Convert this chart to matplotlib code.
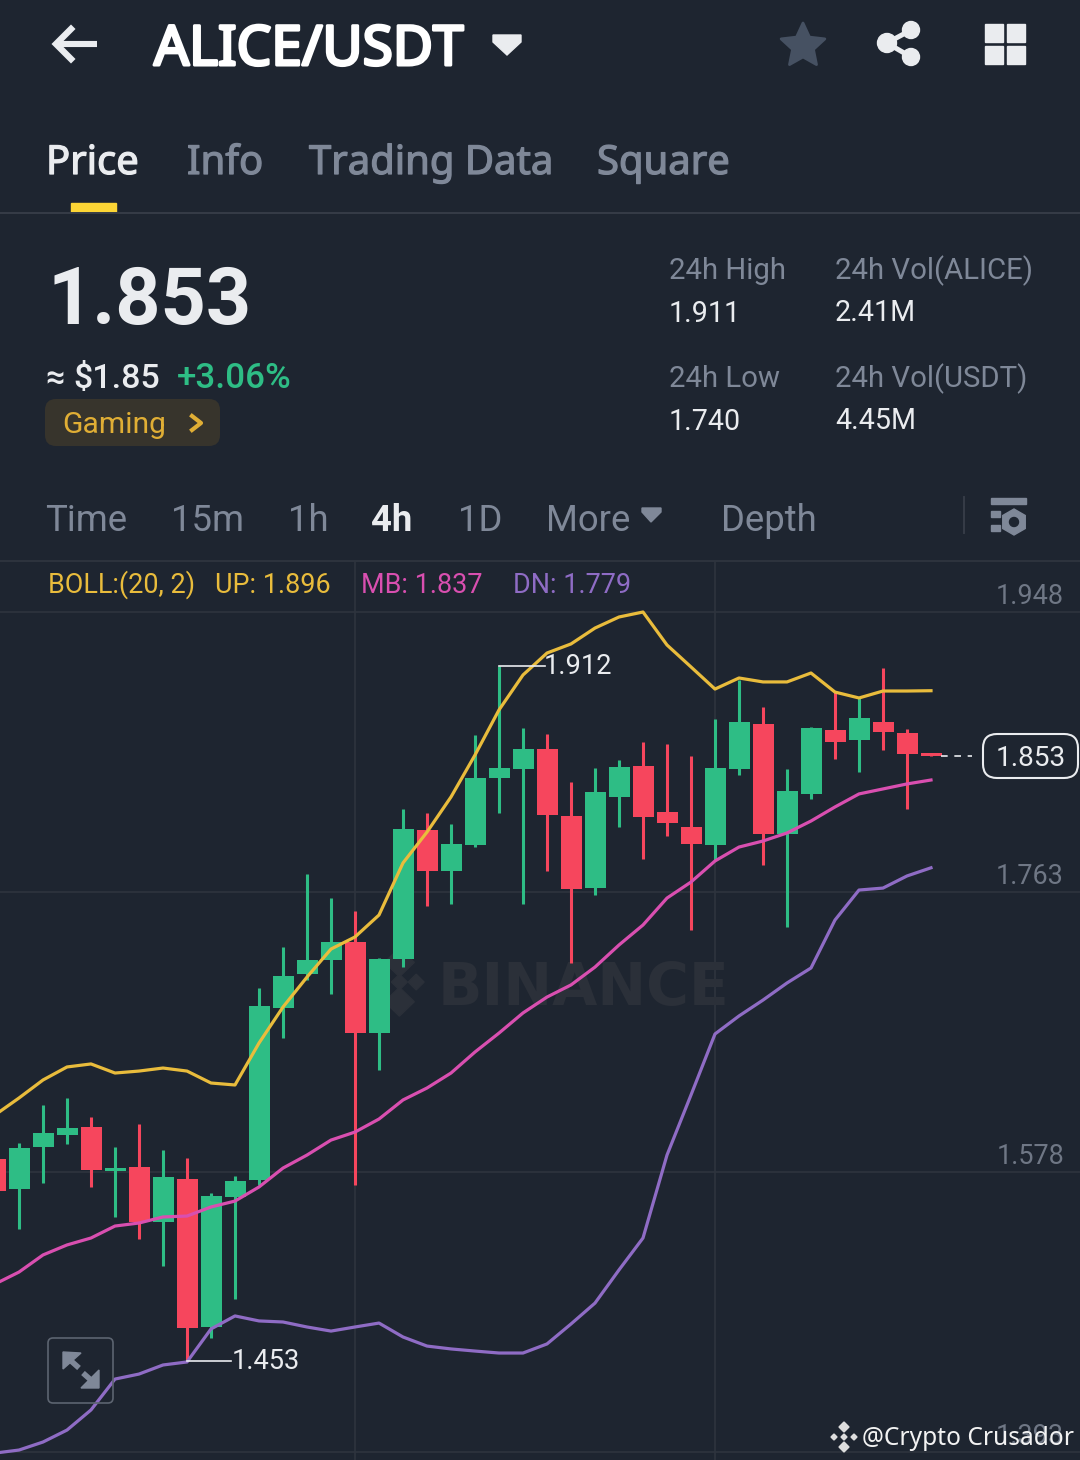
import numpy as np
import matplotlib
matplotlib.use('Agg')
import matplotlib.pyplot as plt
import matplotlib.patheffects as pe
from matplotlib.patches import Polygon, Rectangle, FancyBboxPatch, Circle

plt.rcParams['font.family'] = ['Roboto', 'DejaVu Sans']

# candles, oldest first
opens = [1.5866, 1.5668, 1.5945, 1.6025, 1.6077, 1.5787, 1.5813, 1.5450, 1.5734, 1.4756,
         1.5615, 1.5727, 1.6864, 1.7088, 1.7181, 1.7300, 1.6698, 1.7187, 1.8040, 1.7769,
         1.7941, 1.8383, 1.8443, 1.8575, 1.8132, 1.7656, 1.8258, 1.8463, 1.8159, 1.8059,
         1.7941, 1.8443, 1.8740, 1.8013, 1.8278, 1.8700, 1.8634, 1.8753, 1.8681, 1.8548]
highs = [1.5925, 1.5972, 1.6223, 1.6269, 1.6143, 1.5945, 1.6097, 1.5925, 1.5872, 1.5641,
         1.5754, 1.6996, 1.7267, 1.7749, 1.7590, 1.7504, 1.7194, 1.8178, 1.8152, 1.8079,
         1.8667, 1.9120, 1.8714, 1.8674, 1.8357, 1.8449, 1.8502, 1.8621, 1.8608, 1.8529,
         1.8773, 1.9031, 1.8852, 1.8443, 1.8720, 1.8951, 1.8912, 1.9110, 1.8707, 1.8548]
lows = [1.5595, 1.5403, 1.5707, 1.5965, 1.5681, 1.5483, 1.5337, 1.5159, 1.4530, 1.4683,
        1.4941, 1.5694, 1.6665, 1.7049, 1.6956, 1.5694, 1.6454, 1.7134, 1.7538, 1.7551,
        1.7927, 1.8152, 1.7551, 1.7769, 1.7161, 1.7610, 1.8059, 1.7848, 1.8000, 1.7379,
        1.7841, 1.8403, 1.7808, 1.7399, 1.8244, 1.8509, 1.8423, 1.8568, 1.8178, 1.8530]
closes = [1.5654, 1.5939, 1.6038, 1.6071, 1.5793, 1.5806, 1.5450, 1.5747, 1.4749, 1.5621,
          1.5721, 1.6877, 1.7075, 1.7181, 1.7300, 1.6698, 1.7187, 1.8046, 1.7769, 1.7947,
          1.8383, 1.8449, 1.8575, 1.8139, 1.7650, 1.8291, 1.8456, 1.8126, 1.8086, 1.7947,
          1.8449, 1.8753, 1.8013, 1.8297, 1.8714, 1.8621, 1.8780, 1.8687, 1.8542, 1.8530]

# bollinger bands
boll_up = [1.6157, 1.6269, 1.6388, 1.6474, 1.6494, 1.6434, 1.6447, 1.6467, 1.6447, 1.6368,
           1.6355, 1.6632, 1.6870, 1.7068, 1.7253, 1.7333, 1.7478, 1.7822, 1.8026, 1.8258,
           1.8535, 1.8833, 1.9064, 1.9209, 1.9269, 1.9374, 1.9447, 1.9480, 1.9262, 1.9117,
           1.8971, 1.9044, 1.9018, 1.9018, 1.9077, 1.8951, 1.8912, 1.8958, 1.8958, 1.8960]
boll_mb = [1.5040, 1.5119, 1.5232, 1.5298, 1.5344, 1.5423, 1.5443, 1.5483, 1.5489, 1.5549,
           1.5588, 1.5681, 1.5806, 1.5892, 1.5991, 1.6044, 1.6130, 1.6256, 1.6335, 1.6434,
           1.6573, 1.6698, 1.6831, 1.6936, 1.7016, 1.7134, 1.7280, 1.7412, 1.7590, 1.7696,
           1.7835, 1.7927, 1.7967, 1.8020, 1.8099, 1.8192, 1.8278, 1.8311, 1.8344, 1.8370]
boll_dn = [1.3923, 1.3943, 1.3996, 1.4075, 1.4208, 1.4412, 1.4445, 1.4505, 1.4525, 1.4743,
           1.4829, 1.4796, 1.4789, 1.4756, 1.4729, 1.4756, 1.4782, 1.4690, 1.4630, 1.4611,
           1.4597, 1.4584, 1.4584, 1.4644, 1.4776, 1.4914, 1.5133, 1.5344, 1.5892, 1.6289,
           1.6692, 1.6811, 1.6916, 1.7029, 1.7128, 1.7445, 1.7643, 1.7656, 1.7736, 1.7790]

price_ticks = [1.948, 1.763, 1.578, 1.393]
price_tick_labels = ['1.948', '1.763', '1.578', '1.393']
time_grid = [15, 30]
last_price = 1.853
high_idx, high_val = 21, 1.912
low_idx, low_val = 8, 1.453

tabs = ['Price', 'Info', 'Trading Data', 'Square']
tab_x = [46, 187, 309, 597]
frames = ['Time', '15m', '1h', '4h', '1D', 'More', 'Depth']
frame_x = [45, 171, 288, 371, 458, 546, 721]

BG = '#1E2530'
GRID = '#2E343E'
GREEN = '#2EBD85'
RED = '#F6465D'
GREY = '#7F8898'
WHITE = '#EAECEF'
YELLOW = '#E9BC3C'
MAGENTA = '#D94FB0'
PURPLE = '#8F6CC5'
MARK = '#2B3039'

W, H = 1080, 1460
fig = plt.figure(figsize=(W / 100, H / 100), dpi=100, facecolor=BG)

# chart area, y runs from pixel 1460 up to pixel 562
ax = fig.add_axes([0, 0, 1, (H - 562) / H], facecolor=BG)
ax.set_xlim(5 / 24, 1085 / 24)
ax.set_ylim(1.38772, 1.98104)
ax.axis('off')

for p in price_ticks:
    ax.axhline(p, color=GRID, lw=1.2, zorder=1)
for t in time_grid:
    ax.axvline(t, color=GRID, lw=1.2, zorder=1)

# watermark
ax.text(18.45, 1.6995, 'BINANCE', fontsize=42, fontweight='bold', color=MARK,
        family='DejaVu Sans', ha='left', va='center', zorder=1)
for cx, cy, s, t in [(17.55, 1.7035, 0.33, 0.0052), (16.85, 1.7035, 0.33, 0.0052),
                     (16.85, 1.7165, 0.62, 0.0095), (16.85, 1.6905, 0.62, 0.0095)]:
    ax.add_patch(Polygon([[cx - s, cy], [cx, cy + t], [cx + s, cy], [cx, cy - t]],
                         color=MARK, zorder=1))

idx = np.arange(len(opens))
o, h, l, c = map(np.array, (opens, highs, lows, closes))
colors = [GREEN if cc >= oo else RED for oo, cc in zip(o, c)]
ax.vlines(idx, l, h, colors=colors, lw=2.2, zorder=2)
ax.bar(idx, np.abs(c - o), bottom=np.minimum(o, c), width=0.875, color=colors, zorder=2.1)

ax.plot(idx, boll_up, color=YELLOW, lw=2.3, zorder=3)
ax.plot(idx, boll_mb, color=MAGENTA, lw=2.3, zorder=3)
ax.plot(idx, boll_dn, color=PURPLE, lw=2.3, zorder=3)

# high / low markers
ax.plot([high_idx, high_idx + 1.9], [high_val, high_val], color=WHITE, lw=1.2, zorder=4)
ax.text(high_idx + 1.88, high_val, '1.912', color=WHITE, fontsize=19.6, va='center', zorder=4)
ax.plot([low_idx, low_idx + 1.85], [low_val, low_val], color=WHITE, lw=1.2, zorder=4)
ax.text(low_idx + 1.85, low_val - 0.0005, '1.453', color=WHITE, fontsize=19.6, va='center', zorder=4)
ax.plot([39.4, 40.7], [last_price, last_price], color=WHITE, lw=1.2, ls=(0, (4, 4)), zorder=4)

# everything around the chart, in pixels
ui = fig.add_axes([0, 0, 1, 1], facecolor='none')
ui.set_xlim(0, W)
ui.set_ylim(H, 0)
ui.axis('off')


def label(x, y, s, px, color=WHITE, weight='normal', ha='left', **kw):
    return ui.text(x, y, s, fontsize=px * 0.72, color=color, fontweight=weight,
                   ha=ha, va='baseline', **kw)


def box(x0, y0, x1, y1, r, fc, ec='none', lw=0):
    ui.add_patch(FancyBboxPatch((x0 + r, y0 + r), x1 - x0 - 2 * r, y1 - y0 - 2 * r,
                                boxstyle='round,pad=%d' % r, fc=fc, ec=ec, lw=lw))


# header, Noto Sans has only the regular weight here so it gets a thin stroke
ui.plot([56, 97], [44, 44], color=WHITE, lw=4.4, solid_capstyle='butt')
ui.plot([71, 56, 71], [29, 44, 59], color=WHITE, lw=4.6, solid_joinstyle='miter')
title = label(154, 65, 'ALICE/USDT', 55, color='#FFFFFF', family='Noto Sans')
title.set_path_effects([pe.withStroke(linewidth=2.2, foreground='#FFFFFF')])
ui.add_patch(Polygon([[493, 35], [521, 35], [521, 42], [507, 55], [493, 42]], color=WHITE))

star_ang = np.deg2rad(np.arange(10) * 36 - 90)
star_r = np.where(np.arange(10) % 2 == 0, 23, 11)
ui.add_patch(Polygon(np.c_[803 + star_r * np.cos(star_ang), 46 + star_r * np.sin(star_ang)],
                     color='#465162', joinstyle='round', lw=2))

ui.plot([911, 887, 911], [30, 43, 57], color=WHITE, lw=3.6)
for cx, cy, r in [(911, 30, 8.5), (887, 43, 9.5), (911, 57, 8.5)]:
    ui.add_patch(Circle((cx, cy), r, color=WHITE))
for x0, y0 in [(985, 24), (1007, 24), (985, 46), (1007, 46)]:
    ui.add_patch(Rectangle((x0, y0), 18, 18, color=WHITE))

# tabs
for i, (t, x) in enumerate(zip(tabs, tab_x)):
    col = WHITE if i == 0 else GREY
    tab = label(x, 174, t, 40, color=col, family='Noto Sans')
    tab.set_path_effects([pe.withStroke(linewidth=0.9, foreground=col)])
ui.add_patch(Rectangle((71, 203), 45, 9, color='#FCD535'))
ui.plot([0, W], [213, 213], color='#363C47', lw=1.4)

# price block
label(48, 324, '1.853', 79, weight='bold')
label(45, 388, '≈', 34, weight='medium')
label(73, 388, '$1.85', 34, weight='medium')
label(177, 388, '+3.06%', 35, color=GREEN, weight='medium')
box(45, 399, 220, 446, 11, '#37342C')
label(62, 433, 'Gaming', 30, color='#E0AE35')
ui.plot([192, 201, 192], [416, 423, 430], color='#E0AE35', lw=3)

label(669, 279, '24h High', 29.4, color=GREY)
label(669, 322, '1.911', 28.6)
label(835, 279, '24h Vol(ALICE)', 29.4, color=GREY)
label(835, 321, '2.41M', 28.6)
label(669, 387, '24h Low', 29.4, color=GREY)
label(669, 430, '1.740', 28.6)
label(835, 387, '24h Vol(USDT)', 29.4, color=GREY)
label(835, 429, '4.45M', 28.6)

# timeframe row
for t, x in zip(frames, frame_x):
    if t == '4h':
        label(x, 531, t, 36.5, weight='bold')
    else:
        label(x, 531, t, 36.5, color=GREY)
ui.add_patch(Polygon([[642, 508], [661, 508], [661, 512], [651, 522], [642, 512]], color=GREY))
ui.plot([964, 964], [497, 533], color='#363C47', lw=1.4)
ui.add_patch(Rectangle((991, 498), 35, 6, color=GREY))
ui.add_patch(Rectangle((991, 511), 9, 6, color=GREY))
ui.add_patch(Rectangle((991, 525), 9, 6, color=GREY))
hex_ang = np.deg2rad(np.arange(6) * 60 + 30)
ui.add_patch(Polygon(np.c_[1014 + 13 * np.cos(hex_ang), 522 + 13 * np.sin(hex_ang)], color=GREY))
ui.add_patch(Circle((1014, 522), 4.5, color=BG))
ui.plot([0, W], [561, 561], color='#2E343E', lw=1.4)

# bollinger legend
label(48, 593, 'BOLL:(20, 2)', 27, color=YELLOW)
label(215, 593, 'UP: 1.896', 27, color=YELLOW)
label(361, 593, 'MB: 1.837', 27, color=MAGENTA)
label(513, 593, 'DN: 1.779', 27, color=PURPLE)

# price axis labels
for p, s, y in zip(price_ticks, price_tick_labels, [604, 884, 1164, 1444]):
    label(1064, y, s, 27, color='#6F7785', ha='right')

# last price box
box(983, 734, 1078, 778, 14, BG, ec=WHITE, lw=1.5)
label(1031, 766, '1.853', 28, ha='center')

# expand button
box(48, 1338, 113, 1403, 5, 'none', ec='#5C6470', lw=1.2)
ui.add_patch(Polygon([[63, 1352], [81, 1353], [63, 1369]], color=GREY))
ui.plot([70, 79], [1360, 1368], color=GREY, lw=4, solid_capstyle='butt')
ui.add_patch(Polygon([[99, 1388], [81, 1388], [99, 1370]], color=GREY))
ui.plot([83, 92], [1373, 1381], color=GREY, lw=4, solid_capstyle='butt')

# author mark
for cx, cy, s in [(844, 1427, 5), (834, 1437, 3), (854, 1437, 3), (844, 1437, 3), (844, 1447, 5)]:
    ui.add_patch(Polygon([[cx - s, cy], [cx, cy - s], [cx + s, cy], [cx, cy + s]], color='#DDDDDD'))
label(862, 1445, '@Crypto Crusador', 24.5, color='#F2F2F2', family='Noto Sans')

fig.savefig('out.png', dpi=100, facecolor=BG)
